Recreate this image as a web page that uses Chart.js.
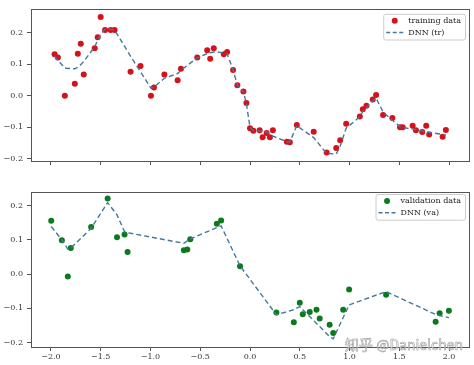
<!DOCTYPE html>
<html>
<head>
<meta charset="utf-8">
<script src="https://cdn.jsdelivr.net/npm/chart.js@4.4.1/dist/chart.umd.min.js"></script>
<style>
  html, body { margin: 0; padding: 0; background: #fff; }
  body { width: 474px; height: 365px; position: relative; overflow: hidden; }
  #wTop { position: absolute; left: 0; top: 0; width: 474px; height: 172px; }
  #wBot { position: absolute; left: 0; top: 180px; width: 474px; height: 185px; }
  #wm { position: absolute; left: 345px; top: 334px; font: 14px "Noto Sans CJK SC", sans-serif;
        color: rgba(255,255,255,0.7); -webkit-text-stroke: 0.6px rgba(140,140,140,0.85); white-space: nowrap; }
</style>
</head>
<body>
<div id="wTop"><canvas id="cTop" width="474" height="172"></canvas></div>
<div id="wBot"><canvas id="cBot" width="474" height="185"></canvas></div>
<div id="wm">知乎 @Danielchen</div>
<script>
// ---- data ----
const trainX = [-1.963,-1.93,-1.86,-1.76,-1.73,-1.70,-1.67,-1.56,-1.53,-1.50,-1.456,-1.40,-1.36,-1.20,-1.10,-0.995,-0.965,-0.86,-0.727,-0.694,-0.53,-0.43,-0.40,-0.364,-0.263,-0.23,-0.17,-0.127,-0.066,-0.036,0.0,0.034,0.097,0.127,0.167,0.20,0.23,0.37,0.40,0.47,0.64,0.77,0.866,0.906,0.966,1.103,1.133,1.17,1.233,1.267,1.337,1.43,1.507,1.534,1.634,1.667,1.73,1.77,1.80,1.935,1.968];
const trainY = [0.131,0.121,0.0,0.038,0.133,0.164,0.067,0.15,0.185,0.249,0.208,0.208,0.208,0.076,0.094,0.0,0.026,0.067,0.049,0.085,0.121,0.144,0.117,0.15,0.131,0.138,0.081,0.033,0.013,-0.023,-0.103,-0.111,-0.110,-0.132,-0.118,-0.132,-0.110,-0.146,-0.148,-0.093,-0.114,-0.18,-0.166,-0.141,-0.089,-0.066,-0.043,-0.032,-0.012,0.002,-0.061,-0.071,-0.10,-0.10,-0.095,-0.110,-0.115,-0.095,-0.123,-0.130,-0.109];
const dnnTrY = [0.125,0.112,0.087,0.085,0.090,0.098,0.108,0.155,0.175,0.195,0.21,0.21,0.208,0.125,0.076,0.024,0.027,0.055,0.070,0.080,0.120,0.133,0.136,0.138,0.136,0.132,0.082,0.033,0.012,-0.026,-0.100,-0.111,-0.112,-0.113,-0.115,-0.122,-0.128,-0.146,-0.147,-0.095,-0.133,-0.183,-0.185,-0.160,-0.103,-0.067,-0.050,-0.038,-0.016,-0.008,-0.052,-0.078,-0.098,-0.101,-0.106,-0.108,-0.112,-0.114,-0.116,-0.123,-0.125];

const valX = [-1.997,-1.89,-1.83,-1.80,-1.596,-1.43,-1.336,-1.26,-1.23,-0.664,-0.63,-0.60,-0.333,-0.29,-0.10,0.265,0.44,0.50,0.53,0.60,0.668,0.70,0.80,0.836,0.936,0.996,1.367,1.865,1.905,1.998];
const valY = [0.156,0.099,-0.007,0.076,0.138,0.221,0.108,0.116,0.065,0.07,0.072,0.102,0.147,0.157,0.023,-0.112,-0.141,-0.084,-0.117,-0.111,-0.104,-0.13,-0.148,-0.172,-0.104,-0.045,-0.06,-0.139,-0.114,-0.107];
const dnnVaY = [0.139,0.100,0.073,0.076,0.134,0.209,0.173,0.124,0.121,0.090,0.097,0.103,0.136,0.141,0.024,-0.119,-0.104,-0.095,-0.104,-0.124,-0.144,-0.153,-0.183,-0.189,-0.127,-0.090,-0.051,-0.118,-0.121,-0.127];

const xTicks = [-2.0,-1.5,-1.0,-0.5,0.0,0.5,1.0,1.5,2.0];
const yTicks = [-0.2,-0.1,0.0,0.1,0.2];
const labelsTop = ['training data', 'DNN (tr)'];
const labelsBot = ['validation data', 'DNN (va)'];

// ---- helpers ----
const FONT = '"DejaVu Serif", "Liberation Serif", serif';
const AX = '#555';
function fmt(v) {
  const s = (Math.abs(v) < 1e-9 ? 0 : v).toFixed(1);
  return s.replace('-', '\u2212');
}
function pts(xs, ys) { return xs.map((x, i) => ({x: x, y: ys[i]})); }

const framePlugin = {
  id: 'frame',
  afterDatasetsDraw(chart) {
    const a = chart.chartArea, c = chart.ctx;
    c.save();
    c.strokeStyle = AX; c.lineWidth = 1;
    c.strokeRect(Math.round(a.left) + 0.5, Math.round(a.top) + 0.5,
                 Math.round(a.right - a.left), Math.round(a.bottom - a.top));
    c.restore();
  }
};

const legendPlugin = {
  id: 'boxLegend',
  afterDraw(chart, args, opts) {
    const c = chart.ctx, a = chart.chartArea;
    const dsets = chart.data.datasets;
    c.save();
    c.font = '8px ' + FONT;
    let tw = 0;
    dsets.forEach(d => { tw = Math.max(tw, c.measureText(d.label).width); });
    const padL = 3, sample = 17, gap = 5, padR = 4, rowH = 11.7, padT = 5.5;
    const w = padL + sample + gap + tw + padR;
    const h = padT * 2 + rowH * (dsets.length - 1) + 3;
    const x0 = a.right - 4 - w, y0 = a.top + opts.offTop;
    c.fillStyle = 'rgba(255,255,255,0.85)';
    c.strokeStyle = '#cccccc'; c.lineWidth = 1;
    c.beginPath();
    c.roundRect(x0 + 0.5, y0 + 0.5, w, h, 2);
    c.fill(); c.stroke();
    dsets.forEach((d, i) => {
      const cy = y0 + padT + 1.5 + i * rowH;
      if (d.showLine) {
        c.strokeStyle = d.borderColor; c.lineWidth = 1.5; c.setLineDash([4, 2.5]);
        c.beginPath(); c.moveTo(x0 + padL, cy); c.lineTo(x0 + padL + sample, cy); c.stroke();
        c.setLineDash([]);
      } else {
        c.fillStyle = d.backgroundColor;
        c.beginPath(); c.arc(x0 + padL + sample / 2, cy, 3, 0, Math.PI * 2); c.fill();
      }
      c.fillStyle = '#222'; c.textBaseline = 'middle'; c.textAlign = 'left';
      c.fillText(d.label, x0 + padL + sample + gap, cy);
    });
    c.restore();
  }
};

function makeChart(id, xs, ys, predY, labels, color, yMin, yMax, showXLabels, padTop, xAxisH, legTop) {
  return new Chart(document.getElementById(id), {
    type: 'scatter',
    data: {
      datasets: [
        { label: labels[0], data: pts(xs, ys), backgroundColor: color, borderColor: color,
          pointRadius: 3, pointHoverRadius: 3, borderWidth: 0, order: 1 },
        { label: labels[1], type: 'line', data: pts(xs, predY), showLine: true, borderColor: '#45789a',
          borderWidth: 1.4, borderDash: [5, 3], pointRadius: 0, tension: 0, fill: false, order: 0 }
      ]
    },
    options: {
      responsive: false, animation: false, events: [],
      layout: { padding: { top: padTop, right: 5, left: 0, bottom: 0 } },
      plugins: { legend: { display: false }, tooltip: { enabled: false }, boxLegend: { offTop: legTop } },
      scales: {
        x: {
          type: 'linear', min: -2.2, max: 2.2,
          afterBuildTicks: s => { s.ticks = xTicks.map(v => ({value: v})); },
          afterFit: s => { s.height = xAxisH; },
          ticks: { display: showXLabels, callback: v => fmt(v), font: { family: FONT, size: 8 }, color: '#333', padding: 1, maxRotation: 0, autoSkip: false },
          grid: { drawOnChartArea: false, drawTicks: true, tickLength: 4, tickColor: AX, color: AX },
          border: { display: false }
        },
        y: {
          type: 'linear', min: yMin, max: yMax,
          afterBuildTicks: s => { s.ticks = yTicks.map(v => ({value: v})); },
          afterFit: s => { s.width = 31; },
          ticks: { callback: v => fmt(v), font: { family: FONT, size: 8 }, color: '#333', padding: 4, autoSkip: false },
          grid: { drawOnChartArea: false, drawTicks: true, tickLength: 4, tickColor: AX, color: AX },
          border: { display: false }
        }
      }
    },
    plugins: [framePlugin, legendPlugin]
  });
}

makeChart('cTop', trainX, trainY, dnnTrY, labelsTop, '#d3121c', -0.207, 0.275, false, 5, 11, 5);
makeChart('cBot', valX, valY, dnnVaY, labelsBot, '#0b7a1f', -0.213, 0.240, true, 12, 18, 2);
</script>
</body>
</html>
